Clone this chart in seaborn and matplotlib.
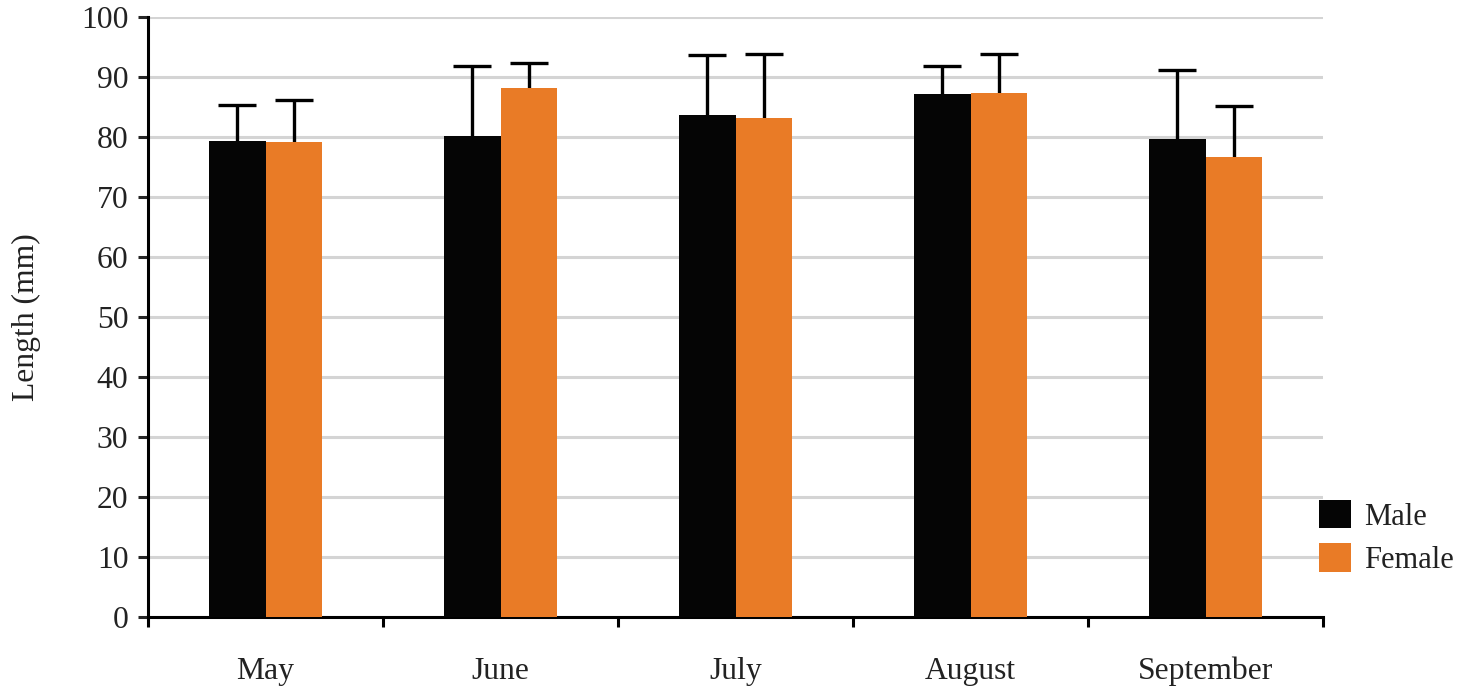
import numpy as np
import pandas as pd
import seaborn as sns
import matplotlib.pyplot as plt
from matplotlib.ticker import FixedLocator

months = ["May", "June", "July", "August", "September"]
male_mean = [79.4, 80.2, 83.7, 87.2, 79.6]
male_sd = [5.9, 11.7, 9.9, 4.7, 11.6]
female_mean = [79.2, 88.1, 83.1, 87.4, 76.6]
female_sd = [7.0, 4.3, 10.8, 6.4, 8.5]

sexes = ["Male", "Female"]
colors = {"Male": "#050505", "Female": "#E97B26"}

df = pd.DataFrame({
    "Month": months * 2,
    "Sex": ["Male"] * len(months) + ["Female"] * len(months),
    "Length": male_mean + female_mean,
})

sns.set_style("white")
plt.rcParams["font.family"] = ["Liberation Serif", "DejaVu Serif"]
text_col = "#222222"
fs = 22.8

fig = plt.figure(figsize=(14.63, 6.91), dpi=100)
ax = fig.add_axes([148 / 1463, 1 - 617 / 691, (1323 - 148) / 1463, 600 / 691])

sns.barplot(data=df, x="Month", y="Length", hue="Sex", order=months,
            hue_order=sexes, palette=colors, width=0.48, errorbar=None,
            linewidth=0, saturation=1, ax=ax, legend=True, zorder=3)

# one-sided error bars (upper only), drawn behind the bars
cap_w = 0.162
for cont, sd in zip(ax.containers, [male_sd, female_sd]):
    xs = np.array([p.get_x() + p.get_width() / 2 for p in cont])
    ys = np.array([p.get_height() for p in cont])
    tops = ys + np.array(sd)
    ax.vlines(xs, ys, tops, color="black", linewidth=2.4, zorder=2)
    ax.hlines(tops, xs - cap_w / 2, xs + cap_w / 2, color="black",
              linewidth=2.4, zorder=2)

ax.set_ylim(0, 100)
ax.set_xlim(-0.5, len(months) - 0.5)
ax.set_yticks(np.arange(0, 101, 10))
ax.yaxis.grid(True, color="#d4d4d4", linewidth=2.2)
ax.set_axisbelow(True)

for s in ["top", "right"]:
    ax.spines[s].set_visible(False)
for s in ["left", "bottom"]:
    ax.spines[s].set_linewidth(2.2)
    ax.spines[s].set_color("black")

ax.xaxis.set_minor_locator(FixedLocator(np.arange(-0.5, len(months), 1.0)))
ax.tick_params(axis="x", which="major", length=0, pad=28.5, labelsize=fs,
               labelcolor=text_col)
ax.tick_params(axis="x", which="minor", length=7.5, width=2.2, direction="out",
               color="black", bottom=True)
ax.tick_params(axis="y", length=7, width=2.2, direction="out", pad=7,
               labelsize=fs, labelcolor=text_col, left=True)

ax.set_xlabel("")
ax.set_ylabel("Length (mm)", fontsize=fs, color=text_col, labelpad=29)

handles, labels = ax.get_legend_handles_labels()
ax.get_legend().remove()
fig.legend(handles, labels, loc="upper left",
           bbox_to_anchor=(1319 / 1463, 1 - 500 / 691), frameon=False,
           fontsize=22, handlelength=1.05, handleheight=1.05, labelspacing=0.38,
           handletextpad=0.42, borderpad=0, borderaxespad=0,
           labelcolor=text_col)

fig.savefig("out.png", dpi=100)
